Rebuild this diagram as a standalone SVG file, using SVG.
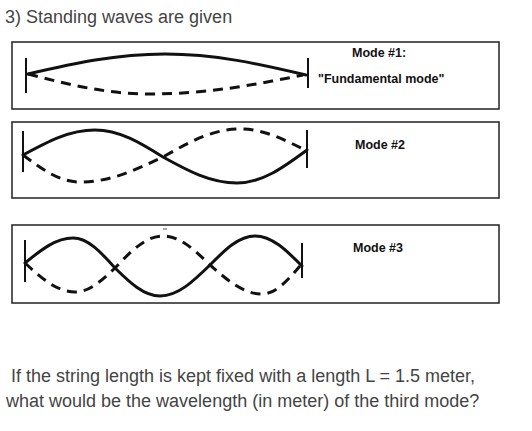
<svg xmlns="http://www.w3.org/2000/svg" width="532" height="431" viewBox="0 0 532 431">
<style>
.bg{fill:#fff}
.box{fill:#fff;stroke:#222;stroke-width:1.5}
.end{stroke:#111;stroke-width:2}
.solid{fill:none;stroke:#111;stroke-width:3;stroke-linecap:round}
.dash{fill:none;stroke:#111;stroke-width:3;stroke-dasharray:10 7}
.lbl{font-family:"Liberation Sans",Arial,sans-serif;font-size:12.5px;font-weight:bold;fill:#111}
.txt{font-family:"Liberation Sans",Arial,sans-serif;font-size:18px;fill:#444}
</style>
<rect class="bg" x="0" y="0" width="532" height="431"/>
<text class="txt" x="5" y="23">3) Standing waves are given</text>

<g id="mode1">
<rect class="box" x="12" y="42" width="487" height="67"/>
<line class="end" x1="26" y1="58" x2="26" y2="93"/>
<line class="end" x1="308" y1="58" x2="308" y2="88"/>
<path class="solid" d="M28,74 C73.8,63.5 115.6,54 165,54 C215.8,54 258.9,64 306,75"/>
<path class="dash" d="M28,74 C68.8,84.5 106,94 150,94 C206.3,94 253.8,85 303,75"/>
<text class="lbl" x="352" y="57">Mode #1:</text>
<text class="lbl" x="318" y="83">"Fundamental mode"</text>
</g>

<g id="mode2">
<rect class="box" x="12" y="122" width="487" height="76"/>
<line class="end" x1="23" y1="131" x2="23" y2="172"/>
<line class="end" x1="307" y1="130" x2="307" y2="168"/>
<path class="solid" d="M23,155 C47.1,141.9 69,130 95,130 C119.5,130 140.3,142.8 163,157 C187.7,170.7 210.3,183 237,183 C262.2,183 283.6,167.3 307,150"/>
<path class="dash" d="M23,155 C42.1,169.2 59.4,182 80,182 C109.9,182 135.3,170.1 163,157 C188.7,142.3 212.2,129 240,129 C263.4,129 283.3,139 305,150"/>
<text class="lbl" x="355" y="149">Mode #2</text>
</g>

<g id="mode3">
<rect class="box" x="12" y="225" width="487" height="78"/>
<line class="end" x1="25" y1="240" x2="25" y2="282"/>
<line class="end" x1="302" y1="243" x2="302" y2="278"/>
<path class="solid" d="M25,263 C41,249.9 55.7,238 73,238 C88.1,238 101,252.2 115,268 C130,282.7 143.8,296 160,296 C178,296 193.3,281.3 210,265 C225,249.8 238.8,236 255,236 C272,236 286.3,250.2 302,266"/>
<path class="dash" d="M25,263 C41.7,278.2 57,292 75,292 C89.4,292 101.6,280.6 115,268 C131,251.2 145.7,236 163,236 C180,236 194.3,249.8 210,265 C227.4,280.2 243.2,294 262,294 C275.7,294 287.3,280.7 300,266"/>
<line x1="163" y1="229" x2="167" y2="229" stroke="#555" stroke-width="1"/>
<text class="lbl" x="353" y="252">Mode #3</text>
</g>

<text class="txt" x="11" y="382">If the string length is kept fixed with a length L = 1.5 meter,</text>
<text class="txt" x="6" y="407">what would be the wavelength (in meter) of the third mode?</text>
</svg>
